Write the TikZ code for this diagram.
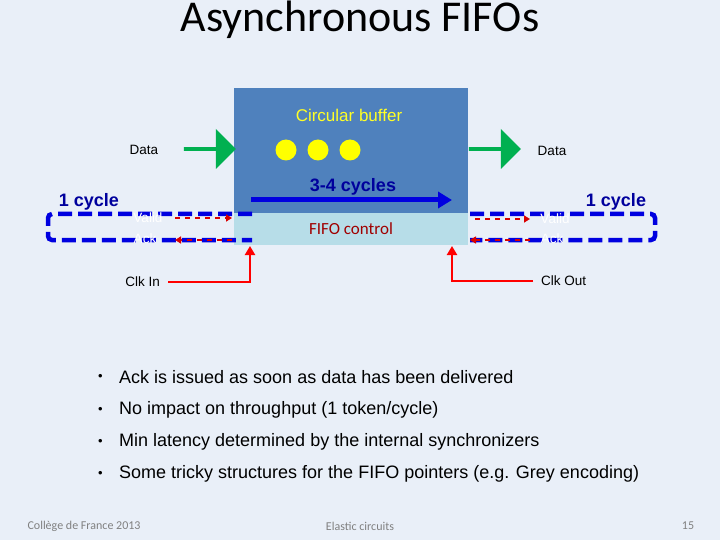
\documentclass[tikz,border=0pt]{standalone}
\usepackage{fontspec}
\setmainfont{Liberation Sans}
\newfontfamily\calfnt{Carlito}
\usetikzlibrary{arrows.meta,shapes.arrows}
\definecolor{bg}{HTML}{E9EFF8}
\definecolor{boxb}{HTML}{4F81BD}
\definecolor{boxl}{HTML}{B7DDE8}
\definecolor{dk}{HTML}{0000E0}
\definecolor{gr}{HTML}{00B050}
\definecolor{ylw}{HTML}{FFFF00}
\definecolor{ctl}{HTML}{A00000}
\tikzset{lbl/.style={font=\fontsize{13.5}{15}\selectfont,inner sep=0pt},
 blt/.style={font=\fontsize{18}{20}\selectfont,anchor=west,inner sep=0pt},
 dsh/.style={draw=dk,line width=4.5pt,dash pattern=on 14pt off 6pt,rounded corners=4pt},
 redar/.style={draw=red,line width=2.2pt,-{Triangle[length=9pt,width=10pt]}},
 redd/.style={draw=red!85!black,line width=2pt,dash pattern=on 5pt off 5pt,-{Triangle[length=6pt,width=7pt]}},
 cyc/.style={font=\bfseries\fontsize{18}{20}\selectfont,text=dk!70!black,inner sep=0pt},
 garrow/.style={single arrow,fill=gr,draw=none,minimum height=52pt,minimum width=40pt,single arrow head extend=2pt,single arrow head indent=0pt,inner sep=0pt}}
\begin{document}
\begin{tikzpicture}[x=1pt,y=-1pt]
\fill[bg] (0,0) rectangle (720,540);
\useasboundingbox (0,0) rectangle (720,540);
\node[font=\calfnt\fontsize{44}{48}\selectfont] (title) at (360,20) {Asynchronous FIFOs};
% box
\fill[boxb] (234,88) rectangle (468,213);
\fill[boxl] (234,213) rectangle (468,245);
\node[font=\fontsize{17}{19}\selectfont,text=ylw!85!white] (cb) at (349,115) {Circular buffer};
\foreach \x/\n in {286/a,318/b,350/c}\fill[ylw] (\x,150) circle (10.5) coordinate (dot\n);
\node[cyc] (c34) at (353,187) {3-4 cycles};
\coordinate (s34) at (251,200); \coordinate (e34) at (452,200);
\draw[dk,line width=5pt,-{Triangle[length=14pt,width=16pt]}] (s34) -- (e34);
\node[font=\calfnt\fontsize{17}{19}\selectfont,text=ctl] (fc) at (351,229) {FIFO control};
% green arrows
\node[garrow] (gl) at (209,149) {};
\node[garrow] (gr) at (494,149) {};
\node[lbl] (dl) at (144,150) {Data};
\node[lbl] (dr) at (552,151) {Data};
% left handshake
\node[cyc] (c1l) at (89,202) {1 cycle};
\draw[dsh] (252,214) -- (48,214) -- (48,240) -- (252,240);
\node[lbl,text=white] (vl) at (148,218) {Valid};
\node[lbl,text=white] (al) at (145,239) {Ack};
\coordinate (vls) at (175,218); \coordinate (vle) at (232,218);
\draw[redd] (vls) -- (vle);
\coordinate (als) at (232,240); \coordinate (ale) at (175,240);
\draw[redd] (als) -- (ale);
\node[lbl,anchor=east] (ci) at (160,282) {Clk In};
\draw[redar] (ci.east)++(8,0) -| (250,246);
% right handshake
\node[cyc] (c1r) at (616,202) {1 cycle};
\draw[dsh] (470,214) -- (655,214) -- (655,240) -- (470,240);
\node[lbl,text=white] (vr) at (555,219) {Valid};
\node[lbl,text=white] (ar) at (552,239) {Ack};
\coordinate (vrs) at (475,219); \coordinate (vre) at (530,219);
\draw[redd] (vrs) -- (vre);
\coordinate (ars) at (530,240); \coordinate (are) at (470,240);
\draw[redd] (ars) -- (are);
\node[lbl,anchor=west] (co) at (541,281) {Clk Out};
\draw[redar] (co.west)++(-8,0) -| (452,246);
% bullets
\foreach \y/\t [count=\i] in {377/{Ack is issued as soon as data has been delivered},410/{No impact on throughput (1 token/cycle)},442/{Min latency determined by the internal synchronizers},474/{Some tricky structures for the FIFO pointers (e.g. Grey encoding)}}{
 \node[blt,font=\fontsize{13}{15}\selectfont] (b\i) at (98,\y) {•};
 \node[blt] (t\i) at (119,\y) {\t};}
% footer
\node[font=\calfnt\fontsize{12}{14}\selectfont,text=gray,anchor=west] (f1) at (24,526) {Collège de France 2013};
\node[font=\calfnt\fontsize{12}{14}\selectfont,text=gray] (f2) at (360,526) {Elastic circuits};
\node[font=\calfnt\fontsize{12}{14}\selectfont,text=gray] (f3) at (688,526) {15};
\end{tikzpicture}
\end{document}
